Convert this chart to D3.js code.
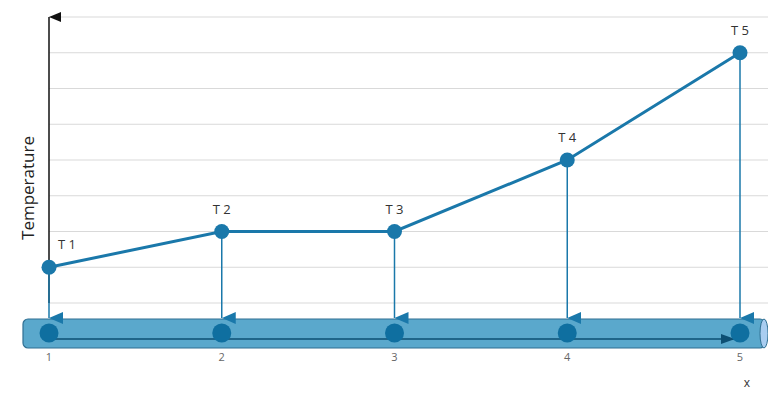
<!DOCTYPE html>
<html><head><meta charset="utf-8">
<script src="https://cdn.jsdelivr.net/npm/d3@7"></script>
<style>body{margin:0;background:#fff}text{font-family:"Open Sans",sans-serif}</style>
</head><body>
<svg id="chart" width="768" height="409"></svg>
<script>
const positions = [1, 2, 3, 4, 5];
const temps = [1, 2, 2, 4, 7];
const pointLabels = ["T 1", "T 2", "T 3", "T 4", "T 5"];
const gridLevels = [0, 1, 2, 3, 4, 5, 6, 7, 8];

const blue = "#1a78aa";
const svg = d3.select("#chart");
const x = d3.scaleLinear().domain([1, 5]).range([49, 740]);
const y = d3.scaleLinear().domain([0, 8]).range([303, 17]);

const defs = svg.append("defs");
defs.append("marker").attr("id", "ab").attr("viewBox", "0 0 12 14")
  .attr("refX", 6).attr("refY", 14).attr("markerWidth", 12).attr("markerHeight", 14)
  .attr("markerUnits", "userSpaceOnUse").attr("orient", "auto-start-reverse")
  .append("path").attr("d", "M0,0L12,0L6,14Z").attr("fill", blue);
defs.append("marker").attr("id", "ak").attr("viewBox", "0 0 10 12")
  .attr("refX", 5).attr("refY", 0).attr("markerWidth", 10).attr("markerHeight", 12)
  .attr("markerUnits", "userSpaceOnUse").attr("orient", "auto")
  .append("path").attr("d", "M0,12L5,0L10,12Z").attr("fill", "#111");
defs.append("marker").attr("id", "ah").attr("viewBox", "0 0 14 10")
  .attr("refX", 14).attr("refY", 5).attr("markerWidth", 14).attr("markerHeight", 10)
  .attr("markerUnits", "userSpaceOnUse").attr("orient", "auto")
  .append("path").attr("d", "M0,0L14,5L0,10Z").attr("fill", "#0d4f73");

// grid
svg.append("g").selectAll("line").data(gridLevels).join("line")
  .attr("x1", 49).attr("x2", 768).attr("y1", d => y(d)).attr("y2", d => y(d))
  .attr("stroke", "#d9d9d9").attr("stroke-width", 1);

// y axis arrow
svg.append("line").attr("x1", 49).attr("x2", 49).attr("y1", y(0)).attr("y2", 17)
  .attr("stroke", "#111").attr("stroke-width", 1.5).attr("marker-end", "url(#ak)");

svg.append("text").attr("transform", "translate(34,188) rotate(-90)")
  .attr("text-anchor", "middle").attr("font-size", 17).attr("fill", "#222").text("Temperature");

// pipe
svg.append("rect").attr("x", 23).attr("y", 319).attr("width", 742).attr("height", 29)
  .attr("rx", 5).attr("fill", "#5aa8cc").attr("stroke", "#2f6f92").attr("stroke-width", 1.2);
svg.append("ellipse").attr("cx", 764).attr("cy", 333.5).attr("rx", 4).attr("ry", 14.5)
  .attr("fill", "#a9cdf0").attr("stroke", "#2f6f92").attr("stroke-width", 1);
svg.append("line").attr("x1", x(1)).attr("x2", 735).attr("y1", 339).attr("y2", 339)
  .attr("stroke", "#0d4f73").attr("stroke-width", 1.5).attr("marker-end", "url(#ah)");

// drop arrows
svg.append("g").selectAll("line").data(positions).join("line")
  .attr("x1", d => x(d)).attr("x2", d => x(d))
  .attr("y1", (d, i) => y(temps[i])).attr("y2", 318)
  .attr("stroke", blue).attr("stroke-width", 1.5).attr("marker-end", "url(#ab)");

// pipe dots
svg.append("g").selectAll("circle").data(positions).join("circle")
  .attr("cx", d => x(d)).attr("cy", 333).attr("r", 9.5).attr("fill", "#0f6fa0");

// line
const line = d3.line().x((d, i) => x(positions[i])).y(d => y(d));
svg.append("path").datum(temps).attr("d", line).attr("fill", "none")
  .attr("stroke", blue).attr("stroke-width", 3);
svg.append("g").selectAll("circle").data(temps).join("circle")
  .attr("cx", (d, i) => x(positions[i])).attr("cy", d => y(d)).attr("r", 7.5).attr("fill", blue);

svg.append("g").selectAll("text").data(temps).join("text")
  .attr("x", (d, i) => i === 0 ? x(positions[i]) + 18 : x(positions[i]))
  .attr("y", d => y(d) - 18).attr("text-anchor", "middle")
  .attr("font-size", 13).attr("fill", "#333").text((d, i) => pointLabels[i]);

// x ticks
svg.append("g").selectAll("text").data(positions).join("text")
  .attr("x", d => x(d)).attr("y", 361).attr("text-anchor", "middle")
  .attr("font-size", 11).attr("fill", "#666").text(d => d);
svg.append("text").attr("x", 747).attr("y", 387).attr("text-anchor", "middle")
  .attr("font-size", 12).attr("fill", "#333").text("x");
</script>
</body></html>
